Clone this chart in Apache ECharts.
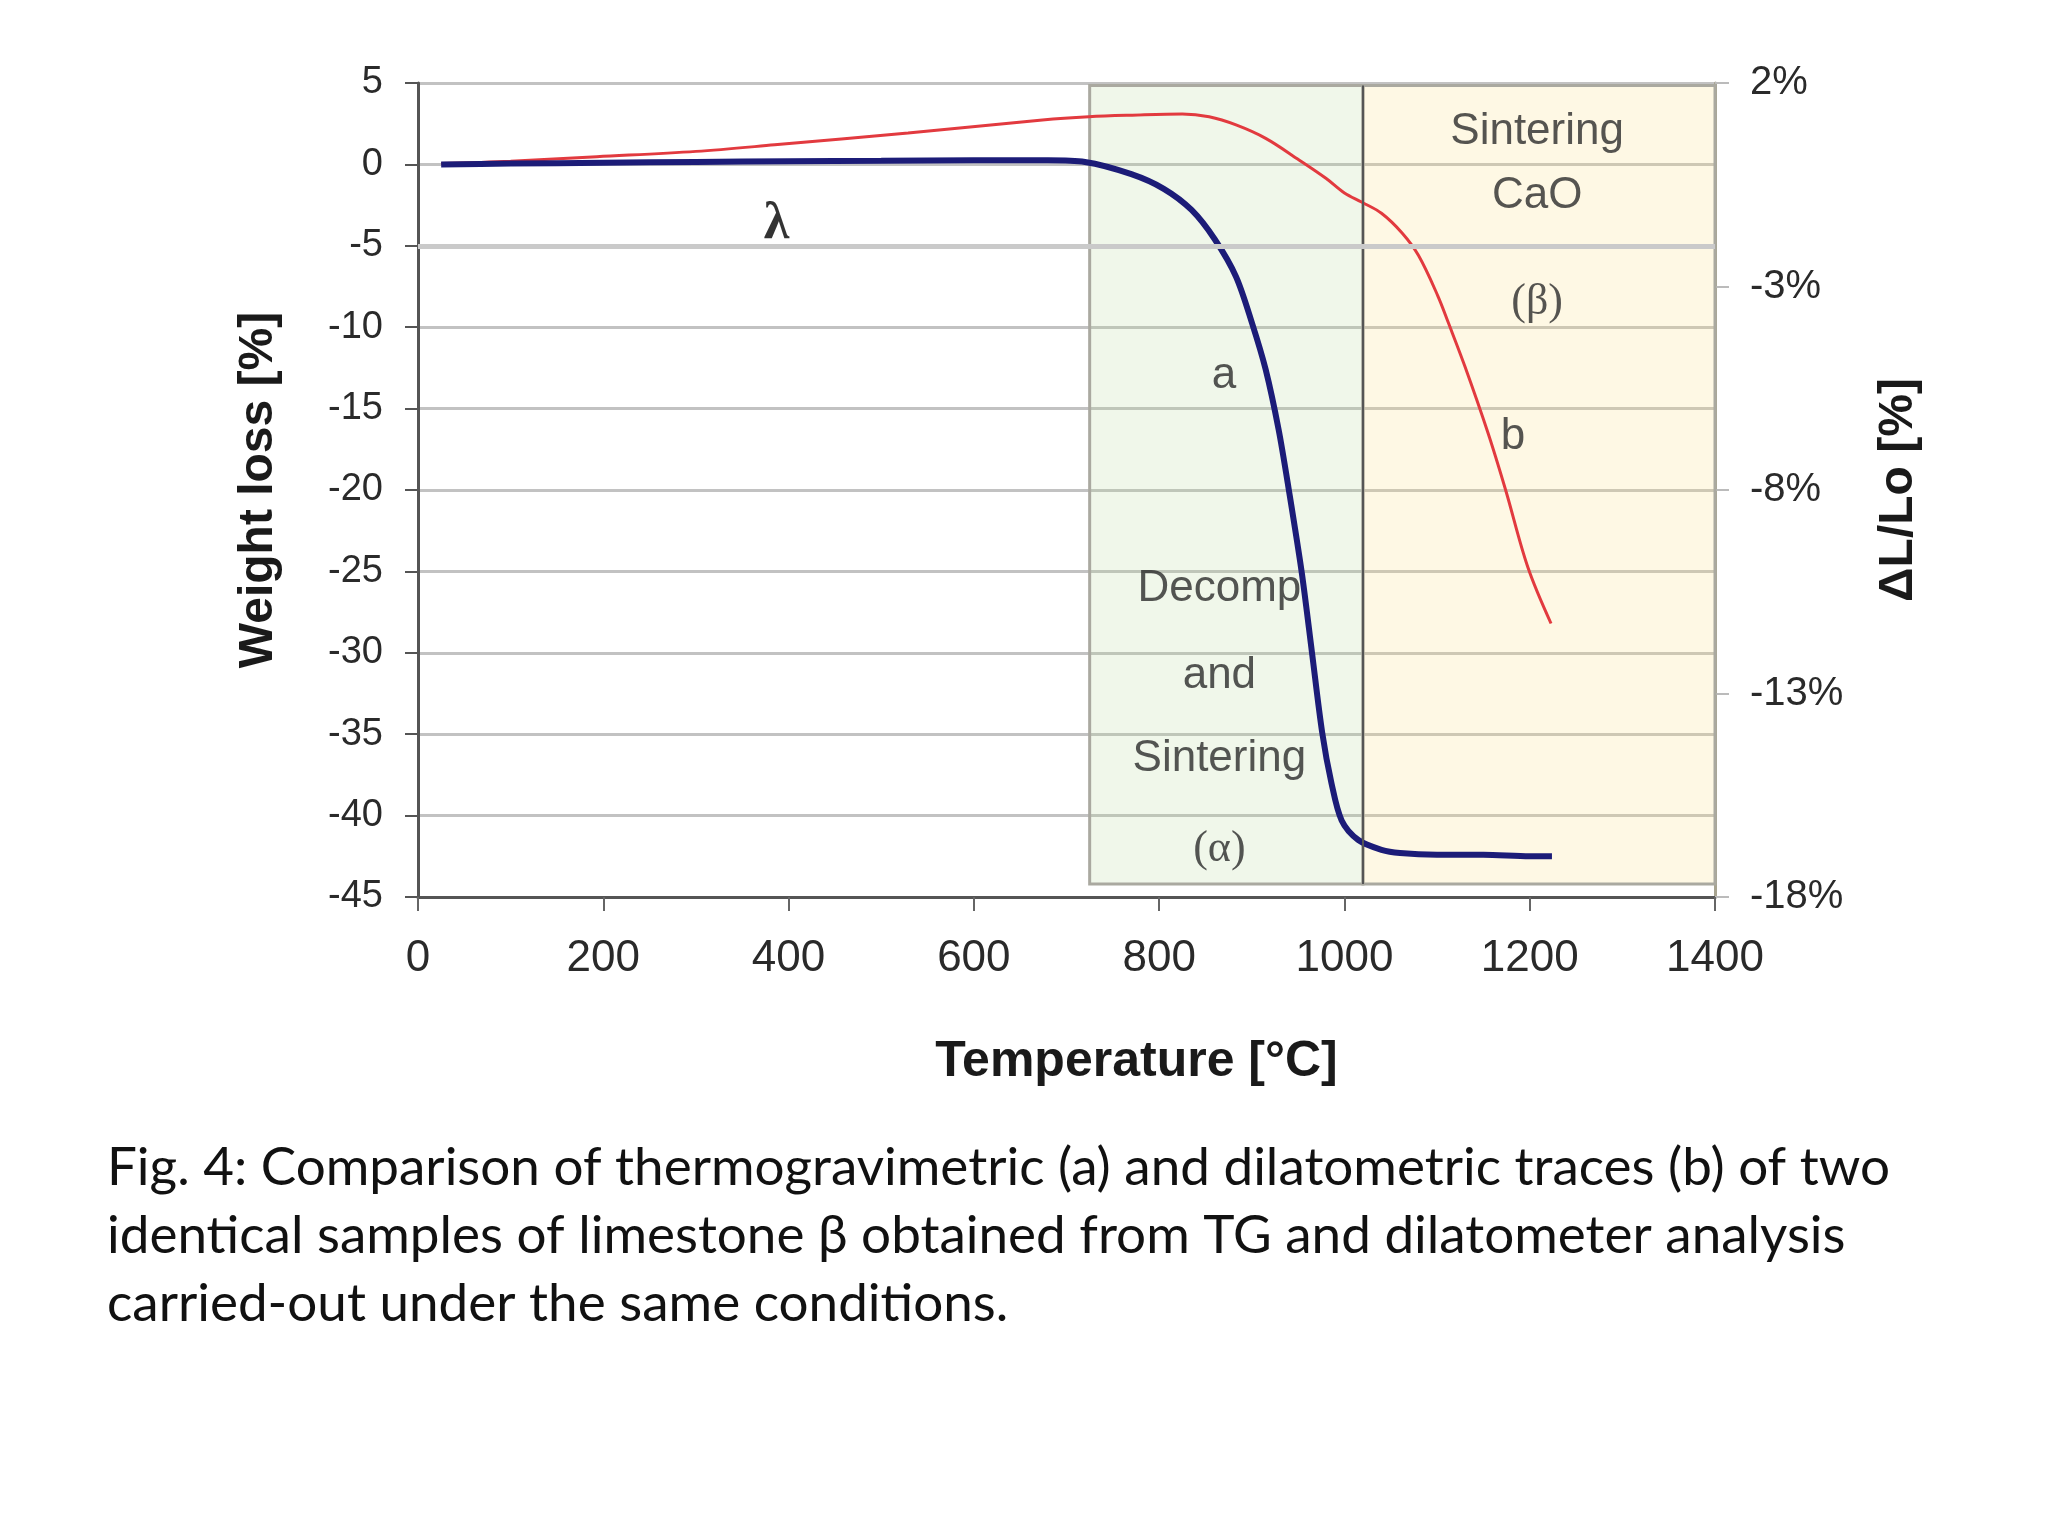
<!DOCTYPE html>
<html><head><meta charset="utf-8">
<script src="https://cdn.jsdelivr.net/npm/echarts@6/dist/echarts.min.js"></script>
<style>html,body{margin:0;padding:0;background:#fff}#c{width:2048px;height:1536px}</style>
</head><body><div id="c"></div>
<script>
// Curve a: thermogravimetric trace (weight loss, left axis)
const tempA = [25, 100, 200, 300, 400, 500, 600, 680, 720, 770, 805, 835, 860, 883, 900, 915, 929, 940, 954, 965, 976, 986, 997, 1015, 1040, 1060, 1100, 1150, 1200, 1224];
const weightA = [0, 0.05, 0.1, 0.15, 0.2, 0.22, 0.25, 0.25, 0.15, -0.6, -1.5, -2.8, -4.6, -6.9, -9.7, -12.6, -16.3, -20.0, -25.1, -30.0, -34.9, -38.0, -40.3, -41.5, -42.1, -42.3, -42.4, -42.4, -42.5, -42.5];
// Curve b: dilatometric trace (ΔL/Lo, right axis)
const tempB = [25, 100, 193, 300, 385, 529, 674, 724, 771, 825, 854, 883, 915, 951, 980, 1000, 1019, 1040, 1062, 1080, 1101, 1112, 1130, 1155, 1174, 1198, 1223];
const dlB = [0.02, 0.08, 0.19, 0.32, 0.48, 0.77, 1.09, 1.17, 1.21, 1.24, 1.17, 0.97, 0.64, 0.11, -0.34, -0.70, -0.93, -1.20, -1.68, -2.24, -3.24, -3.88, -4.96, -6.6, -8.0, -9.9, -11.28];
// Shaded regions (temperature ranges)
const zoneDecomp = [725, 1020];
const zoneSinter = [1020, 1400];
const zoneY = [4.85, -44.2];
// Axis tick labels
const rightTickLabels = ['-18%', '-13%', '-8%', '-3%', '2%'];
// Annotations inside the plot (temperature, weight-loss coordinate, text)
const annoT = [1208, 1208, 1208, 870, 1182, 865, 865, 865, 865, 387];
const annoV = [2.0, -1.94, -8.5, -13.0, -16.75, -26.1, -31.4, -36.5, -42.05, -3.7];
const annoText = ['Sintering', 'CaO', '(β)', 'a', 'b', 'Decomp', 'and', 'Sintering', '(α)', 'λ'];
const annoKind = ['s', 's', 'g', 's', 's', 's', 's', 's', 'g', 'l'];
const captionLines = [
  'Fig. 4: Comparison of thermogravimetric (a) and dilatometric traces (b) of two',
  'identical samples of limestone β obtained from TG and dilatometer analysis',
  'carried-out under the same conditions.'
];

const seriesA = tempA.map((t, i) => [t, weightA[i]]);
const seriesB = tempB.map((t, i) => [t, dlB[i]]);
const kindStyle = {
  s: { fontFamily: 'Liberation Sans', fontSize: 44, color: '#2a2a2a' },
  g: { fontFamily: 'Liberation Serif', fontSize: 44, color: '#2a2a2a' },
  l: { fontFamily: 'Liberation Serif', fontSize: 52, fontWeight: 'bold', color: '#000' }
};
const annoData = annoT.map((t, i) => ({
  value: [t, annoV[i]],
  label: Object.assign({ show: true, position: 'inside', formatter: annoText[i] }, kindStyle[annoKind[i]])
}));

const chart = echarts.init(document.getElementById('c'), null, { renderer: 'canvas' });
chart.setOption({
  backgroundColor: '#fff',
  animation: false,
  grid: { left: 418, right: 333, top: 83, bottom: 639 },
  xAxis: {
    type: 'value', min: 0, max: 1400, interval: 200,
    axisLine: { onZero: false, lineStyle: { color: '#555', width: 3 } },
    axisTick: { show: true, length: 14, lineStyle: { color: '#666', width: 2 } },
    axisLabel: { fontFamily: 'Liberation Sans', fontSize: 44, color: '#2a2a2a', margin: 40, formatter: (v) => String(v) },
    splitLine: { show: false },
    name: 'Temperature [°C]', nameLocation: 'middle', nameGap: 140,
    nameTextStyle: { fontFamily: 'Liberation Sans', fontSize: 50, fontWeight: 'bold', color: '#1a1a1a', padding: [0, 0, 0, 140] }
  },
  yAxis: [{
    type: 'value', min: -45, max: 5, interval: 5,
    axisLine: { show: true, onZero: false, lineStyle: { color: '#555', width: 3 } },
    axisTick: { show: true, length: 13, lineStyle: { color: '#555', width: 2 } },
    axisLabel: { fontFamily: 'Liberation Sans', fontSize: 38, color: '#2a2a2a', margin: 35 },
    splitLine: { show: true, lineStyle: { color: '#c2c2c2', width: 3 } },
    name: 'Weight loss [%]', nameLocation: 'middle', nameGap: 135, nameRotate: 90,
    nameTextStyle: { fontFamily: 'Liberation Sans', fontSize: 48, fontWeight: 'bold', color: '#1a1a1a' }
  }, {
    type: 'value', position: 'right', min: -18, max: 2, interval: 5,
    axisLine: { show: true, onZero: false, lineStyle: { color: '#a8a490', width: 3 } },
    axisTick: { show: true, length: 14, lineStyle: { color: '#bbb', width: 2 } },
    axisLabel: { fontFamily: 'Liberation Sans', fontSize: 40, color: '#2a2a2a', margin: 35,
      formatter: (v) => { const i = Math.round((v + 18) / 5); return rightTickLabels[i] !== undefined ? rightTickLabels[i] : ''; } },
    splitLine: { show: false },
    name: 'ΔL/Lo [%]', nameLocation: 'middle', nameGap: 160, nameRotate: 90,
    nameTextStyle: { fontFamily: 'Liberation Sans', fontSize: 48, fontWeight: 'bold', color: '#1a1a1a' }
  }],
  graphic: [{
    type: 'text', left: 107, top: 1134,
    style: { text: captionLines.join('\n'), fontFamily: 'Lato', fontSize: 53, lineHeight: 68, fill: '#111' }
  }],
  series: [{
    type: 'line', data: [], z: 1, silent: true,
    markArea: {
      silent: true,
      data: [
        [{ xAxis: zoneDecomp[0], yAxis: zoneY[0], itemStyle: { color: 'rgba(180,215,150,0.2)', borderColor: '#aaa9a0', borderWidth: 3 } },
         { xAxis: zoneDecomp[1], yAxis: zoneY[1] }],
        [{ xAxis: zoneSinter[0], yAxis: zoneY[0], itemStyle: { color: 'rgba(250,222,130,0.22)', borderColor: '#aaa9a0', borderWidth: 3 } },
         { xAxis: zoneSinter[1], yAxis: zoneY[1] }]
      ]
    },
    markLine: {
      silent: true, symbol: 'none', label: { show: false },
      data: [
        [{ coord: [zoneSinter[0], zoneY[0]], lineStyle: { color: '#555', width: 2, type: 'solid' } }, { coord: [zoneSinter[0], zoneY[1]] }],
        [{ coord: [0, -5], lineStyle: { color: '#cacaca', width: 5, type: 'solid' } }, { coord: [1400, -5] }]
      ]
    }
  }, {
    name: 'a', type: 'line', data: seriesA, yAxisIndex: 0, z: 4, smooth: 0.3,
    showSymbol: false, lineStyle: { color: '#1c1c78', width: 6 }
  }, {
    name: 'b', type: 'line', data: seriesB, yAxisIndex: 1, z: 3, smooth: 0.35,
    showSymbol: false, lineStyle: { color: '#e23a3f', width: 3 }
  }, {
    type: 'scatter', data: annoData, yAxisIndex: 0, symbolSize: 0, z: 5, silent: true
  }]
});
</script></body></html>
